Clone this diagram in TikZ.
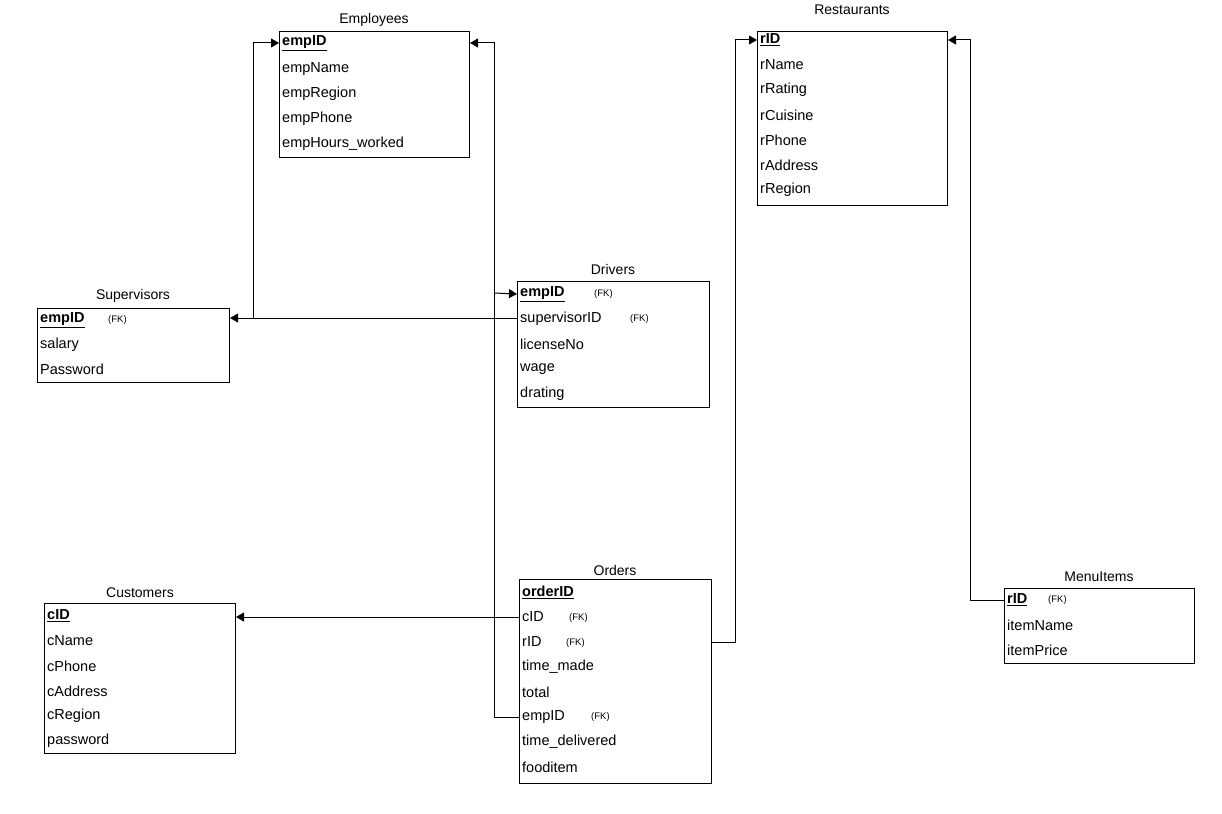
\documentclass[tikz,border=0pt]{standalone}
\usepackage{fontspec}
\setmainfont{Liberation Sans}
\usetikzlibrary{arrows.meta}
\begin{document}
\begin{tikzpicture}[x=1pt,y=-1pt,
  box/.style={draw,line width=1pt},
  ttl/.style={font=\fontsize{14}{14}\selectfont},
  fld/.style={anchor=west,inner sep=0pt,font=\fontsize{14.5}{15}\selectfont},
  fk/.style={anchor=west,inner sep=0pt,font=\fontsize{9.5}{10}\selectfont},
  link/.style={line width=1pt},
  arr/.style={line width=1pt,-{Triangle[length=8pt,width=9pt]}}]
\useasboundingbox (0,0) rectangle (1222,813);
\newcommand{\pk}[1]{\textbf{\underline{#1}}}
% Employees
\node[box,minimum width=190pt,minimum height=126pt,inner sep=0pt,anchor=north west] (emp) at (279,31) {};
\node[ttl] (empT) at (374,20) {Employees};
\node[fld] (e1) at (282,43) {\pk{empID}};
\node[fld] (e2) at (282,69) {empName};
\node[fld] (e3) at (282,94) {empRegion};
\node[fld] (e4) at (282,119) {empPhone};
\node[fld] (e5) at (282,144) {empHours\_worked};
% Supervisors
\node[box,minimum width=192pt,minimum height=74pt,inner sep=0pt,anchor=north west] (sup) at (37,308) {};
\node[ttl] (supT) at (133,296) {Supervisors};
\node[fld] (s1) at (40,320) {\pk{empID}};
\node[fk] (s1k) at (108,320) {(FK)};
\node[fld] (s2) at (40,345) {salary};
\node[fld] (s3) at (40,369) {Password};
% Drivers
\node[box,minimum width=192pt,minimum height=126pt,inner sep=0pt,anchor=north west] (drv) at (517,281) {};
\node[ttl] (drvT) at (613,269) {Drivers};
\node[fld] (d1) at (520,294) {\pk{empID}};
\node[fk] (d1k) at (594,294) {(FK)};
\node[fld] (d2) at (520,319) {supervisorID};
\node[fk] (d2k) at (630,319) {(FK)};
\node[fld] (d3) at (520,344) {licenseNo};
\node[fld] (d4) at (520,369) {wage};
\node[fld] (d5) at (520,394) {drating};
% Restaurants
\node[box,minimum width=190pt,minimum height=174pt,inner sep=0pt,anchor=north west] (res) at (757,31) {};
\node[ttl] (resT) at (852,10) {Restaurants};
\node[fld] (r1) at (760,40) {\pk{rID}};
\node[fld] (r2) at (760,65) {rName};
\node[fld] (r3) at (760,90) {rRating};
\node[fld] (r4) at (760,115) {rCuisine};
\node[fld] (r5) at (760,140) {rPhone};
\node[fld] (r6) at (760,165) {rAddress};
\node[fld] (r7) at (760,190) {rRegion};
% Customers
\node[box,minimum width=191pt,minimum height=150pt,inner sep=0pt,anchor=north west] (cus) at (44,603) {};
\node[ttl] (cusT) at (140,593) {Customers};
\node[fld] (c1) at (47,616) {\pk{cID}};
\node[fld] (c2) at (47,641) {cName};
\node[fld] (c3) at (47,666) {cPhone};
\node[fld] (c4) at (47,691) {cAddress};
\node[fld] (c5) at (47,716) {cRegion};
\node[fld] (c6) at (47,741) {password};
% Orders
\node[box,minimum width=192pt,minimum height=204pt,inner sep=0pt,anchor=north west] (ord) at (519,579) {};
\node[ttl] (ordT) at (615,570) {Orders};
\node[fld] (o1) at (522,592) {\pk{orderID}};
\node[fld] (o2) at (522,617) {cID};
\node[fk] (o2k) at (569,618) {(FK)};
\node[fld] (o3) at (522,642) {rID};
\node[fk] (o3k) at (566,643) {(FK)};
\node[fld] (o4) at (522,667) {time\_made};
\node[fld] (o5) at (522,692) {total};
\node[fld] (o6) at (522,717) {empID};
\node[fk] (o6k) at (591,717) {(FK)};
\node[fld] (o7) at (522,742) {time\_delivered};
\node[fld] (o8) at (522,767) {fooditem};
% MenuItems
\node[box,minimum width=190pt,minimum height=75pt,inner sep=0pt,anchor=north west] (men) at (1004,588) {};
\node[ttl] (menT) at (1099,577) {MenuItems};
\node[fld] (m1) at (1007,600) {\pk{rID}};
\node[fk] (m1k) at (1048,600) {(FK)};
\node[fld] (m2) at (1007,625) {itemName};
\node[fld] (m3) at (1007,650) {itemPrice};
% connectors
\coordinate (supx) at (253,318);
\draw[arr] (drv.west |- supx) -- (sup.east |- supx);
\draw[arr] (supx) -- (253,43) -- (emp.west |- e1);
\coordinate (dv) at (494,293);
\draw[link] (ord.west |- o6) -- (494,717) -- (dv);
\draw[arr] (dv) -- (drv.west |- d1);
\draw[arr] (dv) -- (494,43) -- (emp.east |- e1);
\draw[arr] (ord.west |- o2) -- (cus.east |- o2);
\draw[arr] (ord.east |- o3) -- (735,642) -- (735,40) -- (res.west |- r1);
\draw[arr] (men.west |- m1) -- (970,600) -- (970,40) -- (res.east |- r1);
\end{tikzpicture}
\end{document}
